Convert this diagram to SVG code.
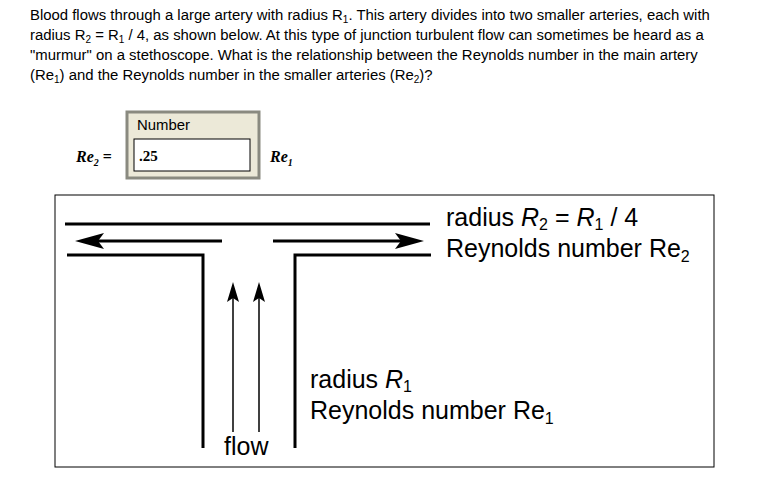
<svg xmlns="http://www.w3.org/2000/svg" width="770" height="480" viewBox="0 0 770 480">
<style>
.t{font-family:"Liberation Sans",Arial,sans-serif;font-size:14.9px;fill:#000}
.d{font-family:"Liberation Sans",Arial,sans-serif;font-size:25px;fill:#000}
.s{font-family:"Liberation Serif",serif;font-weight:bold;font-style:italic;font-size:16px}
.w{stroke:#000;stroke-width:3;fill:none}
.a{stroke:#000;stroke-width:3;fill:none}
.v{stroke:#000;stroke-width:1.5;fill:none}
.hd{fill:#000}
</style>
<rect width="770" height="480" fill="#fff"/>
<g id="question">
<text class="t" x="30" y="20">Blood flows through a large artery with radius R<tspan font-size="10" dy="3">1</tspan><tspan dy="-3">. This artery divides into two smaller arteries, each with</tspan></text>
<text class="t" x="30" y="40">radius R<tspan font-size="10" dy="3">2</tspan><tspan dy="-3"> = R</tspan><tspan font-size="10" dy="3">1</tspan><tspan dy="-3"> / 4, as shown below. At this type of junction turbulent flow can sometimes be heard as a</tspan></text>
<text class="t" x="30" y="60">"murmur" on a stethoscope. What is the relationship between the Reynolds number in the main artery</text>
<text class="t" x="30" y="80">(Re<tspan font-size="10" dy="3">1</tspan><tspan dy="-3">) and the Reynolds number in the smaller arteries (Re</tspan><tspan font-size="10" dy="3">2</tspan><tspan dy="-3">)?</tspan></text>
</g>
<g id="answer">
<text class="s" x="76" y="162">Re<tspan font-size="10" dy="4">2</tspan><tspan dy="-4" font-style="normal"> =</tspan></text>
<rect x="127" y="112" width="132" height="66" fill="#ece9d8" stroke="#8a8a80" stroke-width="3"/>
<text class="t" x="137" y="130" font-size="12">Number</text>
<rect x="134" y="139" width="116" height="32" fill="#fff" stroke="#000" stroke-width="1"/>
<text x="139" y="161" font-family="Liberation Serif,serif" font-weight="bold" font-size="15">.25</text>
<text class="s" x="270" y="162">Re<tspan font-size="10" dy="4">1</tspan></text>
</g>
<g id="figure">
<rect x="55" y="195" width="659" height="272" fill="#fff" stroke="#000" stroke-width="1"/>
<path class="w" d="M65,224 H430 M67,255 H203 V448 M431,255 H295 V448"/>
<text class="d" x="446" y="226">radius <tspan font-style="italic">R</tspan><tspan font-size="16" dy="4">2</tspan><tspan dy="-4"> = </tspan><tspan font-style="italic">R</tspan><tspan font-size="16" dy="4">1</tspan><tspan dy="-4"> / 4</tspan></text>
<text class="d" x="446" y="257">Reynolds number Re<tspan font-size="16" dy="5">2</tspan></text>
<text class="d" x="310" y="388">radius <tspan font-style="italic">R</tspan><tspan font-size="16" dy="4">1</tspan></text>
<text class="d" x="310" y="419">Reynolds number Re<tspan font-size="16" dy="5">1</tspan></text>
<text class="d" x="224" y="455">flow</text>
</g>
<g id="connectors">
<line class="a" x1="222" y1="241" x2="95" y2="241"/>
<polygon class="hd" points="75,241 104,233 98,241 104,249"/>
<line class="a" x1="273" y1="241" x2="405" y2="241"/>
<polygon class="hd" points="424,241 395,233 401,241 395,249"/>
<line class="v" x1="233" y1="432" x2="233" y2="295"/>
<polygon class="hd" points="233,282 227,302 233,298 239,302"/>
<line class="v" x1="259" y1="432" x2="259" y2="295"/>
<polygon class="hd" points="259,282 253,302 259,298 265,302"/>
</g>
</svg>
